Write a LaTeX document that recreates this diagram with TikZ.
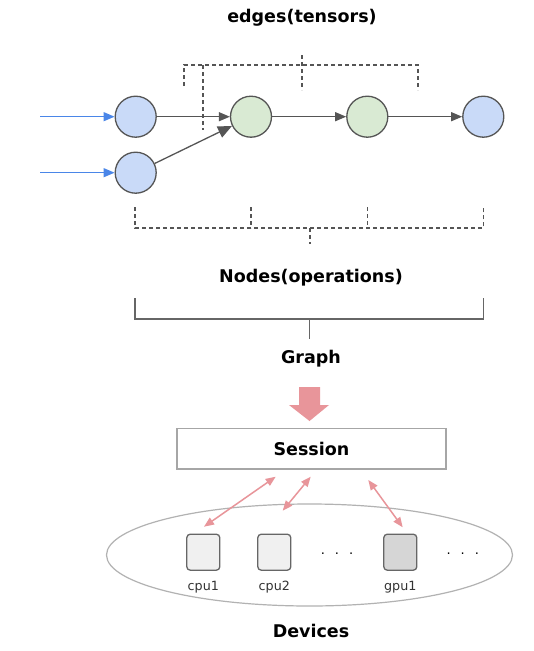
\documentclass[tikz,border=0pt]{standalone}
\usepackage{fontspec}
\setmainfont{DejaVu Sans}
\usetikzlibrary{arrows.meta}
\definecolor{nblue}{HTML}{C9DAF8}
\definecolor{ngreen}{HTML}{D9EAD3}
\definecolor{edgegray}{HTML}{555555}
\definecolor{inblue}{HTML}{4A86E8}
\definecolor{pinkc}{HTML}{E8959A}
\definecolor{dashgray}{HTML}{666666}
\tikzset{
  opnode/.style={circle, draw=edgegray, line width=1.3pt, minimum size=41pt, inner sep=0pt},
  edgearrow/.style={draw=edgegray, line width=1.3pt, -{Triangle[length=11pt,width=9pt]}},
  inarrow/.style={draw=inblue, line width=1.3pt, -{Triangle[length=11pt,width=9pt]}},
  dashbr/.style={draw=edgegray, line width=1.1pt, dash pattern=on 4pt off 3pt},
  solidbr/.style={draw=dashgray, line width=1.3pt},
  title/.style={font=\bfseries\fontsize{17.5}{20}\selectfont, inner sep=0pt},
  devbox/.style={draw=dashgray, rounded corners=3.5pt, line width=1.3pt, minimum width=33pt, minimum height=36pt, inner sep=0pt},
  devlabel/.style={font=\fontsize{12.7}{14}\selectfont, text=black!80, inner sep=0pt},
  pinkarrow/.style={draw=pinkc, line width=1.5pt, {Triangle[length=10pt,width=8pt]}-{Triangle[length=10pt,width=8pt]}},
  dotsnode/.style={inner sep=0pt, font=\fontsize{13}{14}\selectfont}
}
\begin{document}
\begin{tikzpicture}[x=1pt,y=-1pt]
\useasboundingbox (0,0) rectangle (534,651);
\fill[white] (0,0) rectangle (534,651);
% titles
\node[title] (edgest) at (302,18) {edges(tensors)};
\node[title] (nodest) at (311,278) {Nodes(operations)};
\node[title] (grapht) at (311,359) {Graph};
% nodes
\node[opnode, fill=nblue] (n1) at (135.7,116.7) {};
\node[opnode, fill=nblue] (n2) at (135.7,172.7) {};
\node[opnode, fill=ngreen] (n3) at (251,116.7) {};
\node[opnode, fill=ngreen] (n4) at (367.3,116.7) {};
\node[opnode, fill=nblue] (n5) at (483.3,116.7) {};
\coordinate (in1) at (40,116.7);
\coordinate (in2) at (40,172.7);
\draw[inarrow] (in1) -- (n1);
\draw[inarrow] (in2) -- (n2);
\draw[edgearrow] (n1) -- (n3);
\draw[draw=edgegray, line width=1.3pt, -{Triangle[length=14pt,width=12pt]}] (n2) -- (n3);
\draw[edgearrow] (n3) -- (n4);
\draw[edgearrow] (n4) -- (n5);
% top dashed bracket
\draw[dashbr] (184,86) -- (184,65) -- (418,65) -- (418,90);
\draw[dashbr] (203,65) -- (203,130);
\draw[dashbr] (302,55) -- (302,90);
% bottom dashed bracket
\draw[dashbr] (135,207) -- (135,228) -- (483.3,228) -- (483.3,207);
\draw[dashbr] (251,207) -- (251,228);
\draw[dashbr] (367.3,207) -- (367.3,228);
\draw[dashbr] (310,228) -- (310,244);
% solid bracket
\draw[solidbr] (135,298) -- (135,319) -- (483.3,319) -- (483.3,298);
\draw[solidbr] (309.3,319) -- (309.3,339.3);
% block arrow
\fill[pinkc] (299,387) -- (320,387) -- (320,405) -- (329,405) -- (309.5,421) -- (289,405) -- (299,405) -- cycle;
% session
\node[draw=black!35, line width=1.3pt, minimum width=269pt, minimum height=40.7pt, inner sep=0pt, font=\bfseries\fontsize{17.5}{20}\selectfont] (sess) at (311.5,448.7) {Session};
% devices ellipse
\draw[draw=black!30, line width=1.2pt] (309.5,555) ellipse [x radius=203, y radius=51];
\node[devbox, fill=black!6] (cpu1) at (203.3,552.2) {};
\node[devbox, fill=black!6] (cpu2) at (274.3,552.2) {};
\node[devbox, fill=black!16] (gpu1) at (400.3,552.2) {};
\node[devlabel] (cpu1l) at (203.3,587) {cpu1};
\node[devlabel] (cpu2l) at (274.3,587) {cpu2};
\node[devlabel] (gpu1l) at (400.3,587) {gpu1};
\node[dotsnode] (dots1) at (337,554) {.\hspace{10pt}.\hspace{10pt}.};
\node[dotsnode] (dots2) at (462.7,554) {.\hspace{10pt}.\hspace{10pt}.};
\node[title] (devt) at (311,631) {Devices};
% pink double arrows
\coordinate (a1s) at (275.7,476.7); \coordinate (a1e) at (204,526.7);
\coordinate (a2s) at (310.7,476.7); \coordinate (a2e) at (282.7,510.7);
\coordinate (a3s) at (368.3,480); \coordinate (a3e) at (402.7,527.3);
\draw[pinkarrow] (a1s) -- (a1e);
\draw[pinkarrow] (a2s) -- (a2e);
\draw[pinkarrow] (a3s) -- (a3e);
\end{tikzpicture}
\end{document}
